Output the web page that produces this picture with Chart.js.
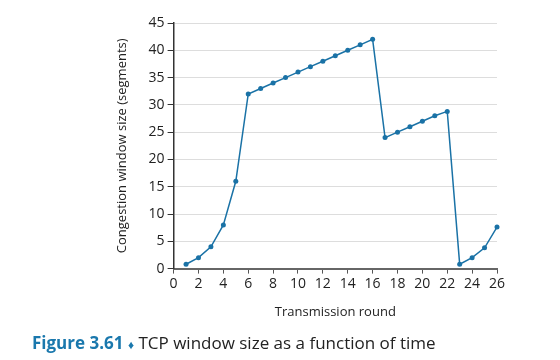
<!DOCTYPE html>
<html>
<head>
<meta charset="utf-8">
<script src="https://cdn.jsdelivr.net/npm/chart.js@4"></script>
<style>
  body { margin: 0; background: #fff; }
  #wrap { position: relative; width: 560px; height: 360px; }
  #caption {
    position: absolute; left: 32px; top: 331px;
    font-family: "Open Sans", sans-serif; font-size: 17px; color: #222;
    white-space: nowrap;
  }
  #caption b { color: #1a78ad; font-weight: 700; }
  #caption .dia { color: #1a78ad; font-size: 12px; }
</style>
</head>
<body>
<div id="wrap">
  <canvas id="myChart" width="560" height="360"></canvas>
  <div id="caption"><b>Figure 3.61</b> <span class="dia">&#9830;</span> TCP window size as a function of time</div>
</div>
<script>
// transmission rounds and congestion window (segments)
var rounds = [1, 2, 3, 4, 5, 6, 7, 8, 9, 10, 11, 12, 13, 14, 15, 16, 17, 18, 19, 20, 21, 22, 23, 24, 25, 26];
var cwnd = [0.8, 2, 4, 8, 16, 32, 33, 34, 35, 36, 37, 38, 39, 40, 41, 42, 24, 25, 26, 27, 28, 28.8, 0.8, 2, 3.8, 7.6];

var points = rounds.map(function(r, i) {
  return { x: r, y: cwnd[i] };
});

var lineColor = '#1a72a6';
var font = { family: '"Open Sans", sans-serif', size: 13 };
var tickFont = { family: '"Open Sans", sans-serif', size: 14 };

var ctx = document.getElementById('myChart');
var myChart = new Chart(ctx, {
  type: 'line',
  data: {
    datasets: [
      {
        data: points,
        borderColor: lineColor,
        backgroundColor: lineColor,
        borderWidth: 1.5,
        pointRadius: 2.5,
        pointBorderWidth: 0,
        tension: 0,
        clip: false
      }
    ]
  },
  options: {
    responsive: false,
    animation: false,
    layout: {
      padding: { left: 110, right: 63, top: 23, bottom: 36 }
    },
    plugins: {
      legend: { display: false },
      tooltip: { enabled: false }
    },
    scales: {
      x: {
        type: 'linear',
        min: 0,
        max: 26,
        ticks: { stepSize: 2, color: '#222', font: tickFont, padding: 2 },
        grid: { drawOnChartArea: false, drawTicks: true, tickLength: 5, color: '#555' },
        border: { color: '#666', width: 2 },
        title: { display: true, text: 'Transmission round', color: '#222', font: font, padding: { top: 10 } }
      },
      y: {
        min: 0,
        max: 45,
        ticks: { stepSize: 5, color: '#222', font: tickFont, padding: 3 },
        grid: { color: '#dddddd', lineWidth: 1, tickColor: '#333', tickLength: 6 },
        border: { color: '#333', width: 1.5 },
        title: { display: true, text: 'Congestion window size (segments)', color: '#222', font: font, padding: { top: 4, bottom: 16 } }
      }
    }
  }
});
</script>
</body>
</html>
